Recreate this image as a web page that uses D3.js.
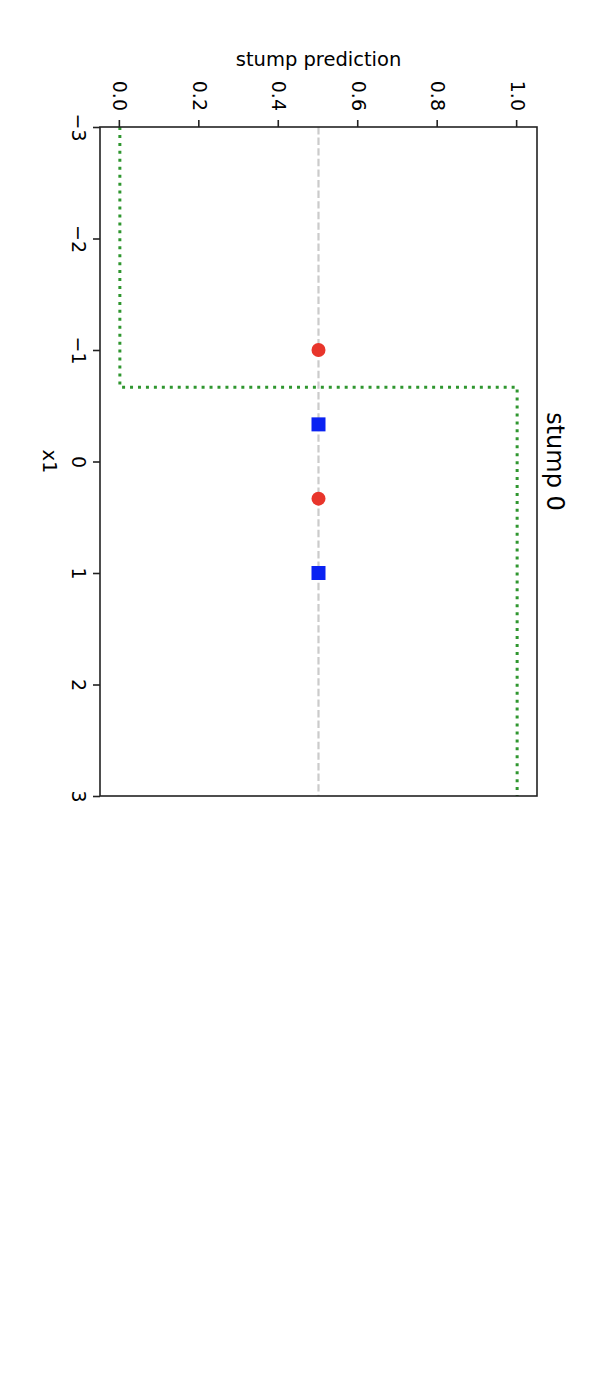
<!DOCTYPE html>
<html>
<head>
<meta charset="utf-8">
<script src="https://cdn.jsdelivr.net/npm/d3@7"></script>
<style>
  html, body { margin: 0; padding: 0; background: #fff; }
  svg { display: block; }
  text { font-family: "DejaVu Sans", sans-serif; fill: #000; }
</style>
</head>
<body>
<svg id="chart" width="597" height="1380"></svg>
<script>
// ---- data ----
const xTicks = [-3, -2, -1, 0, 1, 2, 3];
const yTicks = [0.0, 0.2, 0.4, 0.6, 0.8, 1.0];
const circleX = [-1.0, 0.333];      // red circles
const squareX = [-0.333, 1.0];      // blue squares
const pointY = 0.5;
const stumpX = [-3, -0.667, 3];     // stump prediction steps
const stumpY = [0, 1, 1];
const baseX = [-3, 3];
const baseY = [0.5, 0.5];
const titleText = "stump 0";
const xLabel = "x1";
const yLabel = "stump prediction";

// ---- layout (unrotated plot, then rotated 90deg clockwise) ----
const W = 669, H = 437;
const svg = d3.select("#chart");
svg.append("rect").attr("width", 597).attr("height", 1380).attr("fill", "#fff");
const g = svg.append("g").attr("transform", "translate(537,127) rotate(90)");

const x = d3.scaleLinear().domain([-3, 3]).range([0, W]);
const y = d3.scaleLinear().domain([-0.05, 1.05]).range([H, 0]);

// baseline dashed
const line = d3.line().x(d => x(d[0])).y(d => y(d[1]));
g.append("path")
  .datum(d3.zip(baseX, baseY))
  .attr("d", line)
  .attr("fill", "none")
  .attr("stroke", "#cbcbcb")
  .attr("stroke-width", 2.2)
  .attr("stroke-dasharray", "7.4,3.2");

// stump step (dotted)
const stepLine = d3.line().x(d => x(d[0])).y(d => y(d[1])).curve(d3.curveStepAfter);
g.append("path")
  .datum(d3.zip(stumpX, stumpY))
  .attr("d", stepLine)
  .attr("fill", "none")
  .attr("stroke", "#2f962f")
  .attr("stroke-width", 3)
  .attr("stroke-dasharray", "3,4.95");

// markers
g.selectAll("circle.pt")
  .data(circleX)
  .join("circle")
  .attr("class", "pt")
  .attr("cx", d => x(d))
  .attr("cy", y(pointY))
  .attr("r", 7)
  .attr("fill", "#e8352b");

const sq = 14;
g.selectAll("rect.pt")
  .data(squareX)
  .join("rect")
  .attr("class", "pt")
  .attr("x", d => x(d) - sq / 2)
  .attr("y", y(pointY) - sq / 2)
  .attr("width", sq)
  .attr("height", sq)
  .attr("fill", "#0a22f2");

// axes
const xAxis = g.append("g")
  .attr("transform", `translate(0,${H})`)
  .call(d3.axisBottom(x).tickValues(xTicks).tickFormat(d3.format("d")).tickSize(7).tickPadding(8));
const yAxis = g.append("g")
  .call(d3.axisLeft(y).tickValues(yTicks).tickFormat(d3.format(".1f")).tickSize(7).tickPadding(9));
[xAxis, yAxis].forEach(a => {
  a.select(".domain").remove();
  a.selectAll(".tick line").attr("stroke", "#222").attr("stroke-width", 1.6);
  a.selectAll(".tick text").attr("font-size", 19).attr("font-family", "DejaVu Sans").attr("fill", "#111");
});

// frame
g.append("rect")
  .attr("x", 0).attr("y", 0).attr("width", W).attr("height", H)
  .attr("fill", "none").attr("stroke", "#222").attr("stroke-width", 1.6);

// labels
g.append("text")
  .attr("x", W / 2).attr("y", H + 57)
  .attr("text-anchor", "middle")
  .attr("font-size", 19.5)
  .text(xLabel);

g.append("text")
  .attr("transform", `translate(-61,${H / 2}) rotate(-90)`)
  .attr("text-anchor", "middle")
  .attr("font-size", 19.5)
  .text(yLabel);

g.append("text")
  .attr("x", W / 2).attr("y", -10)
  .attr("text-anchor", "middle")
  .attr("font-size", 24)
  .text(titleText);
</script>
</body>
</html>
